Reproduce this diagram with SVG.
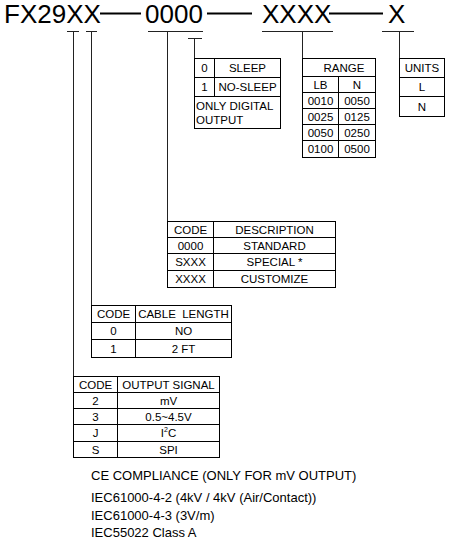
<svg xmlns="http://www.w3.org/2000/svg" width="450" height="542" viewBox="0 0 450 542">
<style>
text{font-family:"Liberation Sans",Arial,sans-serif;fill:#000}
.t{font-size:11.5px}
.c{text-anchor:middle}
.h{font-size:26px}
.n{font-size:13px}
.b{fill:none;stroke:#000;stroke-width:1}
.k{stroke:#222;stroke-width:1;fill:none}
.d{stroke:#000;stroke-width:2}
</style>
<rect width="450" height="542" fill="#fff"/>
<g id="title">
<text class="h" x="4" y="23">FX29XX</text>
<text class="h" x="145" y="23">0000</text>
<text class="h" x="262" y="23">XXXX</text>
<text class="h" x="388" y="23">X</text>
<line class="d" x1="100" y1="13.5" x2="141" y2="13.5"/>
<line class="d" x1="207" y1="13.5" x2="252" y2="13.5"/>
<line class="d" x1="329" y1="13.5" x2="383" y2="13.5"/>
</g>
<g id="connectors">
<path class="k" d="M67 31.5H79M86 31.5H97M148 31.5H203M262 31.5H333M382 31.5H414M188 38.5H202"/>
<path class="k" d="M73.5 31.5V376.5M91.5 31.5V305.5M167.5 31.5V221.5M194.5 38.5V58.5M302.5 31.5V58.5M399.5 31.5V58.5"/>
</g>
<g id="sleep">
<rect class="b" x="194.5" y="58.5" width="86" height="70"/>
<path class="b" d="M194.5 77.5H280.5M194.5 96.5H280.5M214.5 58.5V96.5"/>
<text class="t c" x="204.5" y="72">0</text>
<text class="t c" x="247.5" y="72">SLEEP</text>
<text class="t c" x="204.5" y="91">1</text>
<text class="t c" x="247.5" y="91">NO-SLEEP</text>
<text class="t" x="196" y="110">ONLY DIGITAL</text>
<text class="t" x="196" y="124">OUTPUT</text>
</g>
<g id="range">
<rect class="b" x="302.5" y="58.5" width="73" height="99"/>
<path class="b" d="M302.5 76.5H375.5M302.5 92.5H375.5M302.5 108.5H375.5M302.5 124.5H375.5M302.5 140.5H375.5M338.5 76.5V157.5"/>
<text class="t c" x="344" y="71.5">RANGE</text>
<text class="t c" x="320.5" y="88.5">LB</text>
<text class="t c" x="357" y="88.5">N</text>
<text class="t c" x="320.5" y="104.5">0010</text>
<text class="t c" x="357" y="104.5">0050</text>
<text class="t c" x="320.5" y="120.5">0025</text>
<text class="t c" x="357" y="120.5">0125</text>
<text class="t c" x="320.5" y="136.5">0050</text>
<text class="t c" x="357" y="136.5">0250</text>
<text class="t c" x="320.5" y="153">0100</text>
<text class="t c" x="357" y="153">0500</text>
</g>
<g id="units">
<rect class="b" x="399.5" y="58.5" width="45" height="58"/>
<path class="b" d="M399.5 77.5H444.5M399.5 96.5H444.5"/>
<text class="t c" x="422" y="72">UNITS</text>
<text class="t c" x="422" y="91">L</text>
<text class="t c" x="422" y="110.5">N</text>
</g>
<g id="description">
<rect class="b" x="167.5" y="221.5" width="168" height="66"/>
<path class="b" d="M167.5 237.5H335.5M167.5 253.5H335.5M167.5 270.5H335.5M213.5 221.5V287.5"/>
<text class="t c" x="190.5" y="233.5">CODE</text>
<text class="t c" x="274.5" y="233.5">DESCRIPTION</text>
<text class="t c" x="190.5" y="249.5">0000</text>
<text class="t c" x="274.5" y="249.5">STANDARD</text>
<text class="t c" x="190.5" y="266">SXXX</text>
<text class="t c" x="274.5" y="266">SPECIAL *</text>
<text class="t c" x="190.5" y="283">XXXX</text>
<text class="t c" x="274.5" y="283">CUSTOMIZE</text>
</g>
<g id="cable">
<rect class="b" x="91.5" y="305.5" width="140" height="52"/>
<path class="b" d="M91.5 322.5H231.5M91.5 339.5H231.5M135.5 305.5V357.5"/>
<text class="t c" x="113.5" y="318">CODE</text>
<text class="t c" x="183.5" y="318" xml:space="preserve">CABLE  LENGTH</text>
<text class="t c" x="113.5" y="335">0</text>
<text class="t c" x="183.5" y="335">NO</text>
<text class="t c" x="113.5" y="352.5">1</text>
<text class="t c" x="183.5" y="352.5">2 FT</text>
</g>
<g id="output">
<rect class="b" x="73.5" y="376.5" width="146" height="81"/>
<path class="b" d="M73.5 392.5H219.5M73.5 408.5H219.5M73.5 424.5H219.5M73.5 441.5H219.5M117.5 376.5V457.5"/>
<text class="t c" x="95.5" y="388.5">CODE</text>
<text class="t c" x="168.5" y="388.5">OUTPUT SIGNAL</text>
<text class="t c" x="95.5" y="404.5">2</text>
<text class="t c" x="168.5" y="404.5">mV</text>
<text class="t c" x="95.5" y="420.5">3</text>
<text class="t c" x="168.5" y="420.5">0.5~4.5V</text>
<text class="t c" x="95.5" y="437">J</text>
<text class="t c" x="168.5" y="437">I<tspan font-size="7" dy="-5">2</tspan><tspan dy="5">C</tspan></text>
<text class="t c" x="95.5" y="453.5">S</text>
<text class="t c" x="168.5" y="453.5">SPI</text>
</g>
<g id="notes">
<text class="n" x="91" y="480">CE COMPLIANCE (ONLY FOR mV OUTPUT)</text>
<text class="n" x="91" y="502">IEC61000-4-2 (4kV / 4kV (Air/Contact))</text>
<text class="n" x="91" y="520">IEC61000-4-3 (3V/m)</text>
<text class="n" x="91" y="537">IEC55022 Class A</text>
</g>
</svg>
